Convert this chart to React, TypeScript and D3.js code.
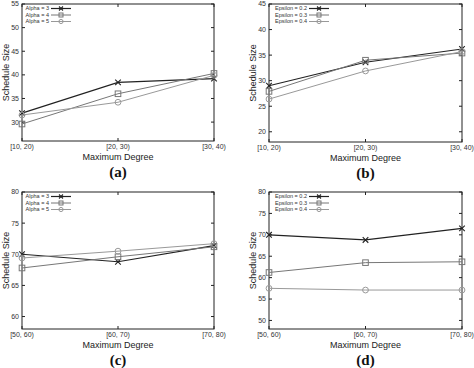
import React, { useEffect, useRef } from "react";
import * as d3 from "d3";

// categories on the x axis
const degreesLow = ["[10, 20)", "[20, 30)", "[30, 40)"];
const degreesHigh = ["[50, 60)", "[60, 70)", "[70, 80)"];

// series names
const alphaNames = ["Alpha = 3", "Alpha = 4", "Alpha = 5"];
const epsNames = ["Epsilon = 0.2", "Epsilon = 0.3", "Epsilon = 0.4"];

// panel (a)
const aAlpha3 = [31.9, 38.4, 39.2];
const aAlpha4 = [29.6, 36.0, 40.3];
const aAlpha5 = [31.5, 34.2, 39.9];
// panel (b)
const bEps2 = [29.0, 33.6, 36.2];
const bEps3 = [27.9, 34.0, 35.4];
const bEps4 = [26.4, 31.9, 35.7];
// panel (c)
const cAlpha3 = [70.0, 68.8, 71.4];
const cAlpha4 = [67.8, 69.6, 71.2];
const cAlpha5 = [69.4, 70.5, 71.7];
// panel (d)
const dEps2 = [70.0, 68.8, 71.5];
const dEps3 = [61.2, 63.5, 63.7];
const dEps4 = [57.5, 57.1, 57.1];

// y ranges and tick values
const aDomain = [26, 55];
const bDomain = [18, 45];
const cDomain = [58, 80];
const dDomain = [48, 80];
const aTicks = [30, 35, 40, 45, 50, 55];
const bTicks = [20, 25, 30, 35, 40, 45];
const cTicks = [60, 65, 70, 75, 80];
const dTicks = [50, 55, 60, 65, 70, 75, 80];

const seriesColors = ["#222", "#777", "#999"];
const seriesWidths = [1.2, 1, 1];
const markers = ["cross", "square", "circle"];

const panels = [
  { tag: "(a)", box: [22, 4, 214, 141], cats: degreesLow, names: alphaNames, series: [aAlpha3, aAlpha4, aAlpha5], domain: aDomain, ticks: aTicks, legendX: 49 },
  { tag: "(b)", box: [269, 4, 462, 142], cats: degreesLow, names: epsNames, series: [bEps2, bEps3, bEps4], domain: bDomain, ticks: bTicks, legendX: 307 },
  { tag: "(c)", box: [22, 192, 214, 329], cats: degreesHigh, names: alphaNames, series: [cAlpha3, cAlpha4, cAlpha5], domain: cDomain, ticks: cTicks, legendX: 49 },
  { tag: "(d)", box: [269, 192, 462, 329], cats: degreesHigh, names: epsNames, series: [dEps2, dEps3, dEps4], domain: dDomain, ticks: dTicks, legendX: 307 },
];

const SANS = "'Liberation Sans', Arial, sans-serif";

function drawMarker(g: any, kind: string, x: number, y: number, color: string, s = 2.8) {
  if (kind === "cross") {
    g.append("path")
      .attr("d", `M${x - s},${y - s}L${x + s},${y + s}M${x - s},${y + s}L${x + s},${y - s}`)
      .attr("stroke", color).attr("stroke-width", 1.1).attr("fill", "none");
  } else if (kind === "square") {
    g.append("rect").attr("x", x - s).attr("y", y - s).attr("width", 2 * s).attr("height", 2 * s)
      .attr("stroke", color).attr("stroke-width", 1).attr("fill", "none");
  } else {
    g.append("circle").attr("cx", x).attr("cy", y).attr("r", s + 0.1)
      .attr("stroke", color).attr("stroke-width", 1).attr("fill", "none");
  }
}

export default function App() {
  const ref = useRef<SVGSVGElement>(null);

  useEffect(() => {
    const svg = d3.select(ref.current);
    svg.selectAll("*").remove();
    svg.append("rect").attr("width", 474).attr("height", 368).attr("fill", "#fff");

    panels.forEach((p) => {
      const [x0, y0, x1, y1] = p.box;
      const g = svg.append("g");
      const x = d3.scalePoint<string>().domain(p.cats).range([x0, x1]);
      const y = d3.scaleLinear().domain(p.domain).range([y1, y0]);

      // box
      g.append("rect").attr("x", x0).attr("y", y0).attr("width", x1 - x0).attr("height", y1 - y0)
        .attr("fill", "none").attr("stroke", "#222").attr("stroke-width", 1);

      // y ticks, mirrored
      p.ticks.forEach((t) => {
        const yy = y(t);
        g.append("line").attr("x1", x0).attr("x2", x0 + 3).attr("y1", yy).attr("y2", yy).attr("stroke", "#222");
        g.append("line").attr("x1", x1).attr("x2", x1 - 3).attr("y1", yy).attr("y2", yy).attr("stroke", "#222");
        g.append("text").attr("x", x0 - 3).attr("y", yy).attr("dy", "0.35em")
          .attr("text-anchor", "end").attr("font-family", SANS).attr("font-size", 7)
          .attr("fill", "#333").text(t);
      });

      // x ticks
      p.cats.forEach((c) => {
        const xx = x(c)!;
        g.append("line").attr("x1", xx).attr("x2", xx).attr("y1", y1).attr("y2", y1 - 3).attr("stroke", "#222");
        g.append("line").attr("x1", xx).attr("x2", xx).attr("y1", y0).attr("y2", y0 + 3).attr("stroke", "#222");
        g.append("text").attr("x", xx).attr("y", y1 + 6).attr("dy", "0.35em")
          .attr("text-anchor", "middle").attr("font-family", SANS).attr("font-size", 7)
          .attr("fill", "#333").text(c);
      });

      // axis titles
      const cx = (x0 + x1) / 2;
      g.append("text").attr("x", cx).attr("y", y1 + 16).attr("dy", "0.35em")
        .attr("text-anchor", "middle").attr("font-family", SANS).attr("font-size", 9)
        .attr("fill", "#222").text("Maximum Degree");
      g.append("text")
        .attr("transform", `translate(${x0 - 16},${(y0 + y1) / 2}) rotate(-90)`)
        .attr("dy", "0.35em").attr("text-anchor", "middle").attr("font-family", SANS)
        .attr("font-size", 9).attr("fill", "#222").text("Schedule Size");
      g.append("text").attr("x", cx).attr("y", y1 + 31).attr("dy", "0.35em")
        .attr("text-anchor", "middle").attr("font-family", "'Liberation Serif', 'Times New Roman', serif")
        .attr("font-weight", "bold").attr("font-size", 15).attr("fill", "#111").text(p.tag);

      // series
      p.series.forEach((vals, i) => {
        const line = d3.line<number>().x((_, j) => x(p.cats[j])!).y((v) => y(v));
        g.append("path").attr("d", line(vals)!).attr("fill", "none")
          .attr("stroke", seriesColors[i]).attr("stroke-width", seriesWidths[i]);
        vals.forEach((v, j) => drawMarker(g, markers[i], x(p.cats[j])!, y(v), seriesColors[i]));
      });

      // legend
      p.names.forEach((name, i) => {
        const ly = y0 + 4.5 + i * 6.5;
        g.append("text").attr("x", p.legendX).attr("y", ly).attr("dy", "0.35em")
          .attr("text-anchor", "end").attr("font-family", SANS).attr("font-size", 5.5)
          .attr("fill", "#333").text(name);
        g.append("line").attr("x1", p.legendX + 2).attr("x2", p.legendX + 22).attr("y1", ly).attr("y2", ly)
          .attr("stroke", seriesColors[i]).attr("stroke-width", seriesWidths[i]);
        drawMarker(g, markers[i], p.legendX + 12, ly, seriesColors[i], 2);
      });
    });
  }, []);

  return (
    <svg ref={ref} width={474} height={368}
      style={{ position: "absolute", left: 0, top: 0, display: "block" }} />
  );
}
